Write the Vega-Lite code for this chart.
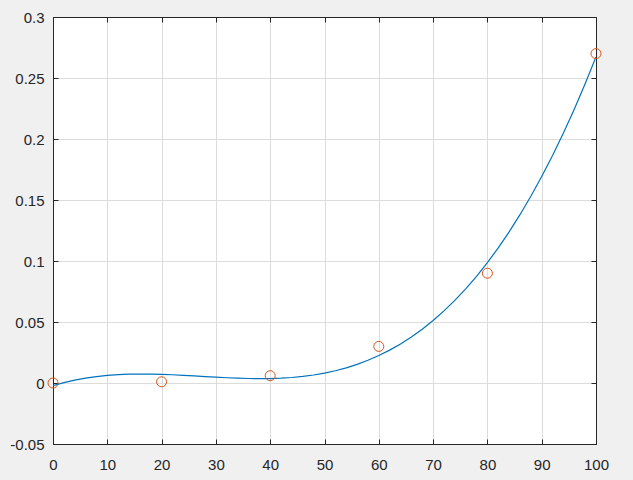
{
  "$schema": "https://vega.github.io/schema/vega-lite/v6.json",
  "width": 543,
  "height": 427,
  "autosize": {"type": "none"},
  "padding": {"left": 53, "top": 17, "right": 37, "bottom": 36},
  "background": "#f0f0f0",
  "config": {
    "view": {"fill": "white", "stroke": "#262626", "strokeWidth": 1},
    "axis": {
      "labelFont": "Liberation Sans",
      "labelFontSize": 15,
      "labelColor": "#262626",
      "labelFlush": false,
      "labelOverlap": false,
      "domainColor": "#262626",
      "tickColor": "#262626",
      "gridColor": "#dcdcdc",
      "gridWidth": 1,
      "tickSize": -5,
      "title": null
    }
  },
  "datasets": {
    "fit": [
      {"x": 0, "y": -0.002206}, {"x": 2, "y": 0.000298}, {"x": 4, "y": 0.002359}, {"x": 6, "y": 0.004012},
      {"x": 8, "y": 0.005292}, {"x": 10, "y": 0.006235}, {"x": 12, "y": 0.006874}, {"x": 14, "y": 0.007245},
      {"x": 16, "y": 0.007384}, {"x": 18, "y": 0.007325}, {"x": 20, "y": 0.007103}, {"x": 22, "y": 0.006754},
      {"x": 24, "y": 0.006312}, {"x": 26, "y": 0.005812}, {"x": 28, "y": 0.005291}, {"x": 30, "y": 0.004781},
      {"x": 32, "y": 0.00432}, {"x": 34, "y": 0.003941}, {"x": 36, "y": 0.00368}, {"x": 38, "y": 0.003571},
      {"x": 40, "y": 0.003651}, {"x": 42, "y": 0.003953}, {"x": 44, "y": 0.004514}, {"x": 46, "y": 0.005367},
      {"x": 48, "y": 0.006549}, {"x": 50, "y": 0.008094}, {"x": 52, "y": 0.010037}, {"x": 54, "y": 0.012413},
      {"x": 56, "y": 0.015258}, {"x": 58, "y": 0.018606}, {"x": 60, "y": 0.022492}, {"x": 62, "y": 0.026952},
      {"x": 64, "y": 0.03202}, {"x": 66, "y": 0.037732}, {"x": 68, "y": 0.044123}, {"x": 70, "y": 0.051227},
      {"x": 72, "y": 0.059081}, {"x": 74, "y": 0.067718}, {"x": 76, "y": 0.077174}, {"x": 78, "y": 0.087483},
      {"x": 80, "y": 0.098683}, {"x": 82, "y": 0.110805}, {"x": 84, "y": 0.123887}, {"x": 86, "y": 0.137963},
      {"x": 88, "y": 0.153068}, {"x": 90, "y": 0.169238}, {"x": 92, "y": 0.186507}, {"x": 94, "y": 0.20491},
      {"x": 96, "y": 0.224483}, {"x": 98, "y": 0.24526}, {"x": 100, "y": 0.267278}
    ],
    "obs": [
      {"x": 0, "y": 0}, {"x": 20, "y": 0.001}, {"x": 40, "y": 0.006},
      {"x": 60, "y": 0.03}, {"x": 80, "y": 0.09}, {"x": 100, "y": 0.27}
    ]
  },
  "layer": [
    {
      "data": {"name": "fit"},
      "mark": {"type": "line", "color": "#0072BD", "strokeWidth": 1.2, "clip": true},
      "encoding": {
        "x": {
          "field": "x", "type": "quantitative",
          "scale": {"domain": [0, 100], "nice": false, "zero": false},
          "axis": {"orient": "bottom", "values": [0, 10, 20, 30, 40, 50, 60, 70, 80, 90, 100], "labelPadding": 18, "labelExpr": "'' + datum.value", "grid": true}
        },
        "y": {
          "field": "y", "type": "quantitative",
          "scale": {"domain": [-0.05, 0.3], "nice": false, "zero": false},
          "axis": {"orient": "left", "values": [-0.05, 0, 0.05, 0.1, 0.15, 0.2, 0.25, 0.3], "labelPadding": 14, "labelExpr": "'' + datum.value", "grid": true}
        }
      }
    },
    {
      "data": {"name": "obs"},
      "mark": {"type": "point", "shape": "circle", "filled": false, "color": "#D95319", "size": 100, "strokeWidth": 1, "opacity": 1},
      "encoding": {
        "x": {
          "field": "x", "type": "quantitative",
          "axis": {"orient": "top", "values": [0, 10, 20, 30, 40, 50, 60, 70, 80, 90, 100], "labels": false, "grid": false}
        },
        "y": {
          "field": "y", "type": "quantitative",
          "axis": {"orient": "right", "values": [-0.05, 0, 0.05, 0.1, 0.15, 0.2, 0.25, 0.3], "labels": false, "grid": false}
        }
      }
    }
  ],
  "resolve": {"axis": {"x": "independent", "y": "independent"}}
}
